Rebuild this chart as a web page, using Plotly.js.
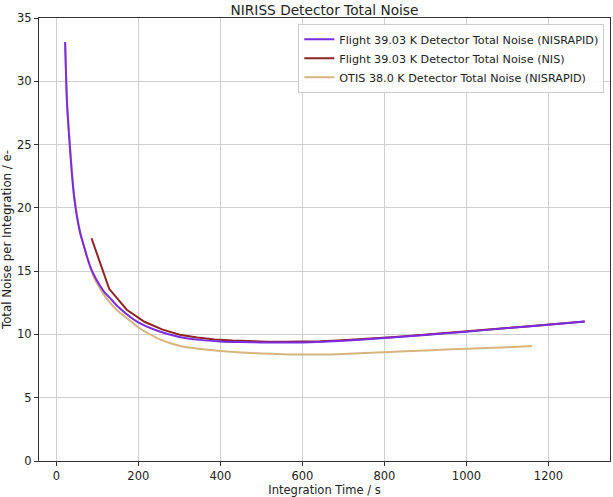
<!DOCTYPE html>
<html>
<head>
<meta charset="utf-8">
<script src="https://cdn.plot.ly/plotly-3.0.1.min.js"></script>
<style>html,body{margin:0;padding:0;background:#fff;}#chart{width:613px;height:497px;}</style>
</head>
<body>
<div id="chart"></div>
<script>
// Flight 39.03 K, NISRAPID
const flightRapidTime = [21.5, 26, 32.2, 37.5, 42.9, 48.3, 53.7, 59, 64.4, 75.2, 85.9, 96.6, 107.4, 118.1, 128.8, 150, 171.8, 200, 250, 300, 350, 400, 450, 500, 550, 600, 700, 800, 900, 1000, 1100, 1200, 1288];
const flightRapidNoise = [33.1, 28.3, 25.2, 22.9, 21.0, 19.7, 18.7, 17.9, 17.3, 16.1, 15.1, 14.4, 13.8, 13.3, 12.95, 12.2, 11.6, 10.95, 10.25, 9.8, 9.57, 9.45, 9.4, 9.37, 9.36, 9.37, 9.5, 9.72, 9.96, 10.22, 10.5, 10.77, 11.03];
// Flight 39.03 K, NIS
const flightNisTime = [85.9, 128.9, 171.8, 214.8, 257.7, 300.6, 343.6, 386.5, 429.5, 472.4, 515.4, 558.3, 601.3, 644.2, 687.2, 730.1, 773.1, 816, 859, 902, 945, 988, 1031, 1074, 1117, 1160, 1203, 1246, 1288.5];
const flightNisNoise = [17.6, 13.6, 11.95, 11.0, 10.4, 9.98, 9.75, 9.6, 9.52, 9.46, 9.43, 9.42, 9.43, 9.46, 9.52, 9.59, 9.67, 9.77, 9.87, 9.98, 10.09, 10.2, 10.3, 10.41, 10.52, 10.64, 10.77, 10.9, 11.03];
// OTIS 38.0 K, NISRAPID
const otisRapidTime = [21.5, 26, 32.2, 37.5, 42.9, 48.3, 53.7, 59, 64.4, 75.2, 85.9, 96.6, 107.4, 118.1, 128.8, 150, 171.8, 200, 250, 300, 350, 400, 450, 500, 550, 600, 650, 700, 800, 900, 1000, 1100, 1160];
const otisRapidNoise = [33.0, 28.5, 25.5, 23.1, 21.2, 19.9, 18.8, 18.0, 17.35, 16.1, 15.0, 14.2, 13.6, 13.05, 12.6, 11.85, 11.3, 10.55, 9.65, 9.1, 8.85, 8.7, 8.58, 8.5, 8.44, 8.41, 8.41, 8.46, 8.6, 8.73, 8.87, 8.99, 9.08];

const seriesNames = [
  "Flight 39.03 K Detector Total Noise (NISRAPID)",
  "Flight 39.03 K Detector Total Noise (NIS)",
  "OTIS 38.0 K Detector Total Noise (NISRAPID)"
];
const xTicks = [0, 200, 400, 600, 800, 1000, 1200];
const yTicks = [0, 5, 10, 15, 20, 25, 30, 35];

const font = "DejaVu Sans, sans-serif";
const traces = [
  {x: otisRapidTime, y: otisRapidNoise, name: seriesNames[2], mode: "lines", line: {color: "#d8b47e", width: 2, shape: "spline", smoothing: 0.6}},
  {x: flightNisTime, y: flightNisNoise, name: seriesNames[1], mode: "lines", line: {color: "#8e2424", width: 2}},
  {x: flightRapidTime, y: flightRapidNoise, name: seriesNames[0], mode: "lines", line: {color: "#7b2be2", width: 2, shape: "spline", smoothing: 0.6}}
];
const axisCommon = {
  showline: true, linecolor: "#333", linewidth: 1, mirror: true,
  ticks: "outside", ticklen: 4, tickcolor: "#333", tickwidth: 1,
  showgrid: true, gridcolor: "#cfcfcf", gridwidth: 1, zeroline: false,
  tickfont: {family: font, size: 11.5, color: "#222"}
};
const layout = {
  width: 613, height: 497,
  margin: {l: 39, r: 3, t: 18, b: 36},
  paper_bgcolor: "#fff", plot_bgcolor: "#fff",
  font: {family: font, color: "#222"},
  title: {text: "NIRISS Detector Total Noise", font: {family: font, size: 13.7, color: "#222"}, xref: "paper", x: 0.5, xanchor: "center", y: 0.99, yanchor: "top"},
  xaxis: Object.assign({}, axisCommon, {
    range: [-42.2, 1350], tickvals: xTicks, ticktext: xTicks.map(String),
    title: {text: "Integration Time / s", font: {family: font, size: 11.5, color: "#222"}, standoff: 5}
  }),
  yaxis: Object.assign({}, axisCommon, {
    range: [0, 35], tickvals: yTicks, ticktext: yTicks.map(String),
    title: {text: "Total Noise per Integration / e-", font: {family: font, size: 11.8, color: "#222"}, standoff: 6}
  }),
  legend: {
    x: 0.99, xanchor: "right", y: 0.987, yanchor: "top",
    bgcolor: "rgba(255,255,255,0.85)", bordercolor: "#cccccc", borderwidth: 1,
    font: {family: font, size: 11.2, color: "#222"}, traceorder: "reversed",
    itemwidth: 30, tracegroupgap: 0
  },
  showlegend: true
};
Plotly.newPlot("chart", traces, layout, {displayModeBar: false, staticPlot: true});
</script>
</body>
</html>
